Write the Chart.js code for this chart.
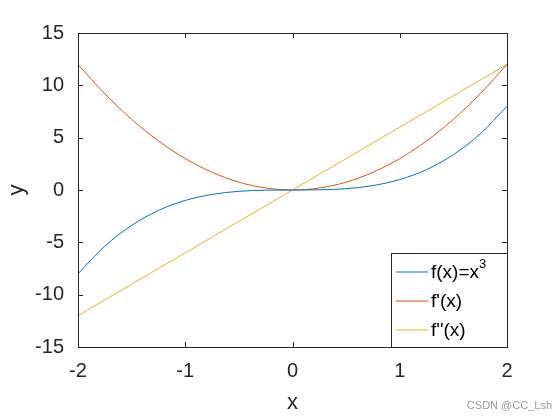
<!DOCTYPE html>
<html><head><meta charset="utf-8">
<script src="https://cdn.jsdelivr.net/npm/chart.js@4/dist/chart.umd.min.js"></script>
<style>html,body{margin:0;padding:0;background:#fff}#w{width:560px;height:420px;position:relative}</style>
</head><body><div id="w"><canvas id="c" width="560" height="420"></canvas></div>
<script>
const xs = [-2,-1.75,-1.5,-1.25,-1,-0.75,-0.5,-0.25,0,0.25,0.5,0.75,1,1.25,1.5,1.75,2];
const fVals = [-8,-5.36,-3.38,-1.95,-1,-0.42,-0.125,-0.016,0,0.016,0.125,0.42,1,1.95,3.38,5.36,8];
const f1Vals = [12,9.19,6.75,4.69,3,1.69,0.75,0.19,0,0.19,0.75,1.69,3,4.69,6.75,9.19,12];
const f2Vals = [-12,-10.5,-9,-7.5,-6,-4.5,-3,-1.5,0,1.5,3,4.5,6,7.5,9,10.5,12];
const seriesNames = ["f(x)=x", "f'(x)", "f''(x)"];
const xTicks = [-2,-1,0,1,2];
const yTicks = [-15,-10,-5,0,5,10,15];
const colors = ['#0072BD','#D95319','#EDB120'];
const FONT = "'Liberation Sans', Arial, sans-serif";
const pts = v => xs.map((x,i)=>({x:x,y:v[i]}));

const boxPlugin = {
  id:'box',
  afterDraw(ch){
    const c=ch.ctx, a=ch.chartArea, sx=ch.scales.x, sy=ch.scales.y;
    c.save();
    c.strokeStyle='#262626'; c.lineWidth=1;
    c.strokeRect(a.left+0.5,a.top+0.5,a.right-a.left,a.bottom-a.top);
    c.beginPath();
    xTicks.forEach(t=>{const p=Math.round(sx.getPixelForValue(t))+0.5;
      c.moveTo(p,a.bottom);c.lineTo(p,a.bottom-5);c.moveTo(p,a.top);c.lineTo(p,a.top+5);});
    yTicks.forEach(t=>{const p=Math.round(sy.getPixelForValue(t))+0.5;
      c.moveTo(a.left,p);c.lineTo(a.left+5,p);c.moveTo(a.right,p);c.lineTo(a.right-5,p);});
    c.stroke();
    const lx=391, ly=253, lw=a.right-lx, lh=a.bottom-ly;
    c.fillStyle='#fff'; c.fillRect(lx,ly,lw,lh);
    c.strokeRect(lx+0.5,ly+0.5,lw,lh);
    c.font='19px '+FONT; c.textBaseline='middle';
    seriesNames.forEach((n,i)=>{
      const y=ly+19+i*29;
      c.strokeStyle=colors[i]; c.beginPath(); c.moveTo(lx+5,y); c.lineTo(lx+37,y); c.stroke();
      c.fillStyle='#000'; c.fillText(n,lx+40,y+1);
      if(i===0){const w=c.measureText(n).width; c.font='13px '+FONT; c.fillText('3',lx+40+w,y-8); c.font='19px '+FONT;}
      c.strokeStyle='#262626';
    });
    c.fillStyle='#999'; c.font='11px '+FONT; c.textAlign='right';
    c.fillText('CSDN @CC_Lsh',552,406);
    c.restore();
  }
};

new Chart(document.getElementById('c'),{
  type:'line',
  data:{datasets:[
    {data:pts(fVals),borderColor:colors[0]},
    {data:pts(f1Vals),borderColor:colors[1]},
    {data:pts(f2Vals),borderColor:colors[2]}
  ].map(d=>Object.assign(d,{borderWidth:1,pointRadius:0,tension:0.4,cubicInterpolationMode:'monotone'}))},
  options:{
    responsive:false,animation:false,
    layout:{padding:{top:33,right:53,left:0,bottom:0}},
    plugins:{legend:{display:false},tooltip:{enabled:false}},
    scales:{
      x:{type:'linear',min:-2,max:2,
        afterFit(s){s.height=73;},
        afterBuildTicks(s){s.ticks=xTicks.map(v=>({value:v}));},
        grid:{display:false},border:{display:false},
        ticks:{color:'#262626',font:{family:FONT,size:20},padding:4,maxRotation:0},
        title:{display:true,text:'x',color:'#262626',font:{family:FONT,size:22},padding:{top:4}}},
      y:{min:-15,max:15,
        afterFit(s){s.width=78;},
        afterBuildTicks(s){s.ticks=yTicks.map(v=>({value:v}));},
        grid:{display:false},border:{display:false},
        ticks:{color:'#262626',font:{family:FONT,size:20},padding:6},
        title:{display:true,text:'y',color:'#262626',font:{family:FONT,size:22},padding:{bottom:0}}}
    }
  },
  plugins:[boxPlugin]
});
</script></body></html>
